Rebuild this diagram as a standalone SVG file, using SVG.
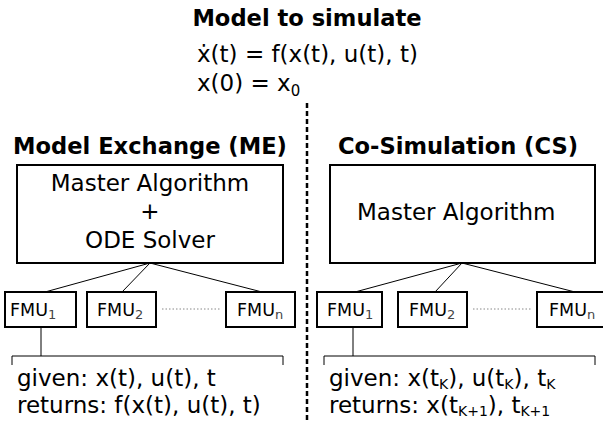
<svg xmlns="http://www.w3.org/2000/svg" width="603" height="421" viewBox="0 0 603 421">
<style>
text{font-family:"DejaVu Sans",sans-serif;fill:#000}
.h{font-weight:bold;font-size:22.6px}
.t{font-size:23px}
.f{font-size:17.5px}
.s{font-size:13px;fill:#444}
.k{font-size:14px}
.box{fill:#fff;stroke:#000;stroke-width:2}
.ln{stroke:#000;stroke-width:1;fill:none}
.dot{stroke:#888;stroke-width:1;stroke-dasharray:1.5 2;fill:none}
</style>
<rect width="603" height="421" fill="#fff"/>
<g id="header">
<text class="h" x="307" y="26" text-anchor="middle">Model to simulate</text>
<text class="t" x="197" y="62">ẋ(t) = f(x(t), u(t), t)</text>
<text class="t" x="197" y="91">x(0) = x<tspan font-size="15" dy="5">0</tspan></text>
</g>
<line x1="307" y1="103" x2="307" y2="421" stroke="#000" stroke-width="2.5" stroke-dasharray="5 3"/>
<text class="h" x="150" y="154" text-anchor="middle">Model Exchange (ME)</text>
<text class="h" x="458" y="154" text-anchor="middle">Co-Simulation (CS)</text>
<g id="connectors">
<path class="ln" d="M150 263L45 292M150 263L122 292M150 263L262 292"/>
<path class="ln" d="M462 263L355 292M462 263L435 292M462 263L575 292"/>
<path class="ln" d="M41 327V356M12 365V356H283V365"/>
<path class="ln" d="M353 327V356M324 365V356H595V365"/>
<path class="dot" d="M162 309H221M473 309H532"/>
</g>
<g id="me-master">
<rect class="box" x="17" y="165" width="266" height="98"/>
<text class="t" x="150" y="191" text-anchor="middle">Master Algorithm</text>
<text class="t" x="150" y="219" text-anchor="middle">+</text>
<text class="t" x="150" y="248" text-anchor="middle">ODE Solver</text>
</g>
<g id="cs-master">
<rect class="box" x="330" y="165" width="265" height="98"/>
<text class="t" x="357" y="220">Master Algorithm</text>
</g>
<g id="me-fmu1"><rect class="box" x="5" y="292" width="71" height="35"/><text class="f" x="10" y="316">FMU<tspan class="s" dy="3">1</tspan></text></g>
<g id="me-fmu2"><rect class="box" x="87" y="292" width="69" height="35"/><text class="f" x="97" y="316">FMU<tspan class="s" dy="3">2</tspan></text></g>
<g id="me-fmun"><rect class="box" x="226" y="292" width="69" height="35"/><text class="f" x="237" y="316">FMU<tspan class="s" dy="3">n</tspan></text></g>
<g id="cs-fmu1"><rect class="box" x="317" y="292" width="65" height="35"/><text class="f" x="327" y="316">FMU<tspan class="s" dy="3">1</tspan></text></g>
<g id="cs-fmu2"><rect class="box" x="398" y="292" width="69" height="35"/><text class="f" x="409" y="316">FMU<tspan class="s" dy="3">2</tspan></text></g>
<g id="cs-fmun"><rect class="box" x="537" y="292" width="70" height="35"/><text class="f" x="549" y="316">FMU<tspan class="s" dy="3">n</tspan></text></g>
<g id="me-text">
<text class="t" x="17" y="386">given: x(t), u(t), t</text>
<text class="t" x="17" y="413">returns: f(x(t), u(t), t)</text>
</g>
<g id="cs-text">
<text class="t" x="329" y="386">given: x(t<tspan class="k" dy="3">K</tspan><tspan dy="-3">), u(t</tspan><tspan class="k" dy="3">K</tspan><tspan dy="-3">), t</tspan><tspan class="k" dy="3">K</tspan></text>
<text class="t" x="329" y="413">returns: x(t<tspan class="k" dy="3">K+1</tspan><tspan dy="-3">), t</tspan><tspan class="k" dy="3">K+1</tspan></text>
</g>
</svg>
